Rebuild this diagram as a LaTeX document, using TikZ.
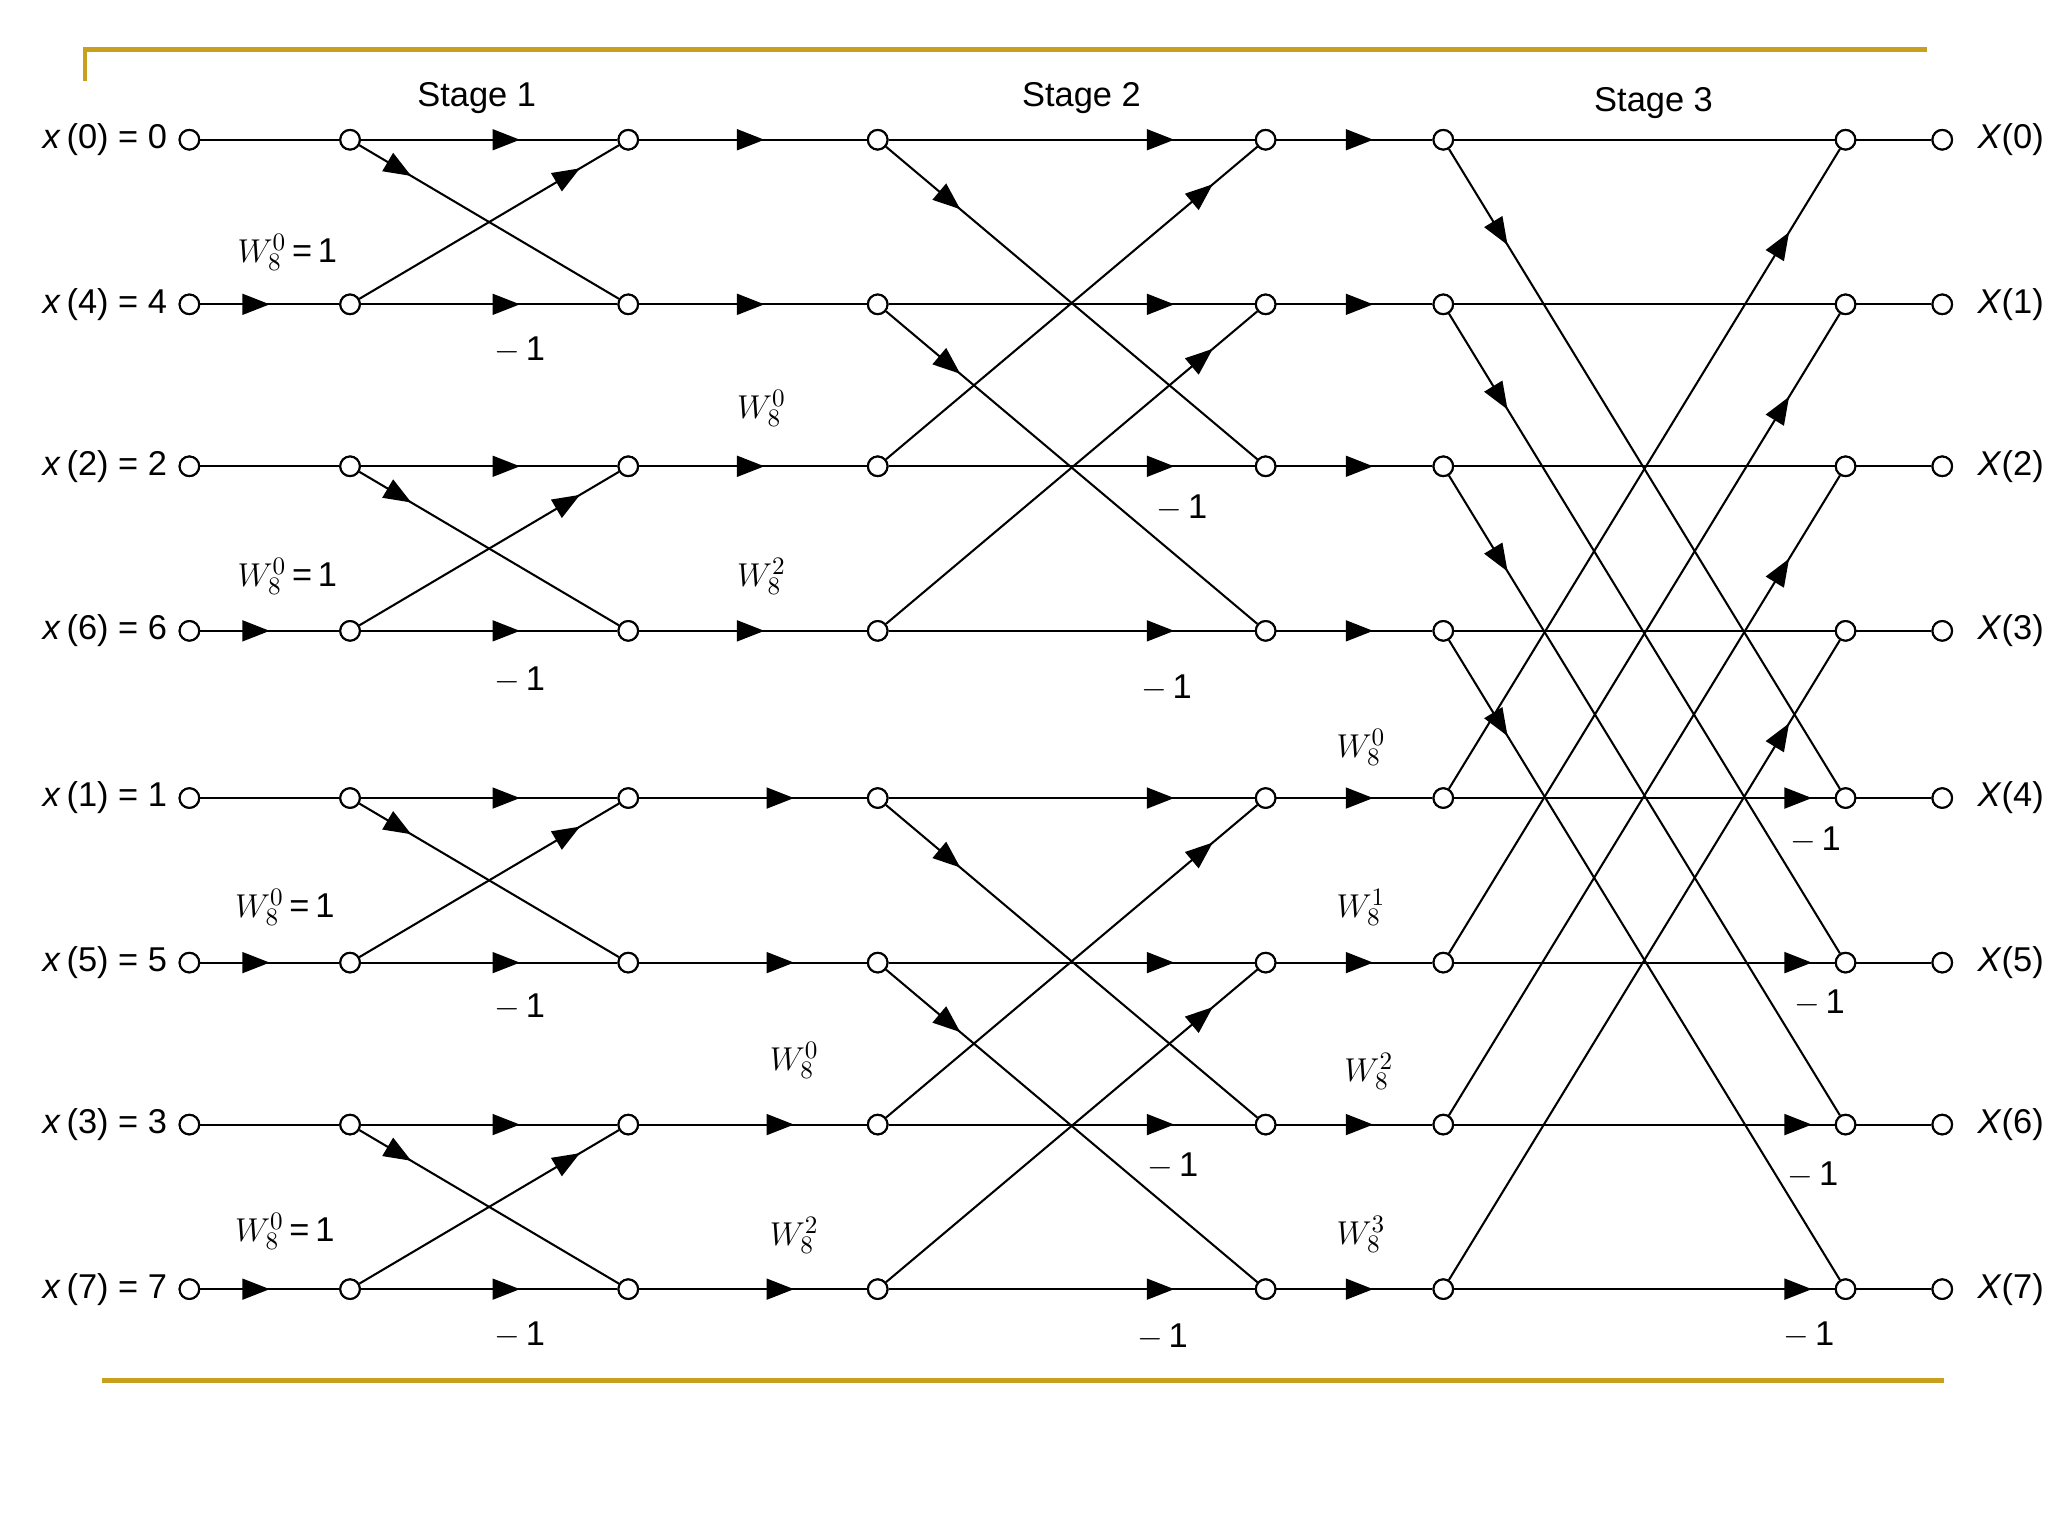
\documentclass[tikz,border=0pt]{standalone}
\usepackage{fontspec}
\setmainfont{Liberation Sans}
\usetikzlibrary{arrows.meta,decorations.markings}
\begin{document}
\begin{tikzpicture}[x=0.02cm,y=-0.02cm,
  pt/.style={circle,draw,line width=0.9pt,fill=white,inner sep=0pt,minimum size=0.3cm},
  ln/.style={line width=0.9pt},
  ma/.style={postaction={decorate,decoration={markings,mark=at position #1 with {\arrow{Triangle[length=0.42cm,width=0.32cm]}}}}},
  lab/.style={font=\fontsize{15}{18}\selectfont,inner sep=1pt},
  gold/.style={draw={rgb,255:red,201;green,160;blue,30},line width=2pt}]
\useasboundingbox (0,0) rectangle (1568,1176);
\draw[gold] (65,62) -- (65,38) -- (1475,38);
\draw[gold] (78,1057) -- (1488,1057);
\def\ys{{107,233,357,483,611,737,861,987}}
\foreach \r in {0,...,7}{
  \pgfmathsetmacro\yy{\ys[\r]}
  \node[pt] (i\r) at (145,\yy) {};
  \node[pt] (a\r) at (268,\yy) {};
  \node[pt] (b\r) at (481,\yy) {};
  \node[pt] (c\r) at (672,\yy) {};
  \node[pt] (d\r) at (969,\yy) {};
  \node[pt] (e\r) at (1105,\yy) {};
  \node[pt] (f\r) at (1413,\yy) {};
  \node[pt] (o\r) at (1487,\yy) {};
}
\foreach \r in {0,2,4,6}{\draw[ln] (i\r)--(a\r);}
\foreach \r in {1,3,5,7}{\draw[ln,ma=0.5] (i\r)--(a\r);}
\foreach \r in {0,...,7}{\draw[ln,ma=0.62] (a\r)--(b\r); \draw[ln,ma=0.78] (c\r)--(d\r); \draw[ln,ma=0.62] (d\r)--(e\r); \draw[ln] (f\r)--(o\r);}
\foreach \r in {0,...,3}{\draw[ln,ma=0.55] (b\r)--(c\r); \draw[ln] (e\r)--(f\r);}
\foreach \r in {4,...,7}{\draw[ln,ma=0.68] (b\r)--(c\r); \draw[ln,ma=0.94] (e\r)--(f\r);}
\foreach \p/\q in {0/1,2/3,4/5,6/7}{
  \draw[ln,ma=0.2] (a\p)--(b\q);
  \draw[ln,ma=0.85] (a\q)--(b\p);}
\foreach \p/\q in {0/2,1/3,4/6,5/7}{
  \draw[ln,ma=0.2] (c\p)--(d\q);
  \draw[ln,ma=0.88] (c\q)--(d\p);}
\foreach \p/\q in {0/4,1/5,2/6,3/7}{
  \draw[ln,ma=0.15] (e\p)--(f\q);
  \draw[ln,ma=0.87] (e\q)--(f\p);}
\foreach \r in {0,...,7}{
  \node[pt] at (i\r) {}; \node[pt] at (a\r) {}; \node[pt] at (b\r) {}; \node[pt] at (c\r) {};
  \node[pt] at (d\r) {}; \node[pt] at (e\r) {}; \node[pt] at (f\r) {}; \node[pt] at (o\r) {};}
\foreach \r/\n/\v in {0/0/0,1/4/4,2/2/2,3/6/6,4/1/1,5/5/5,6/3/3,7/7/7}{
  \node[lab,anchor=east] (in\r) at (130,\ys[\r]) {\textit{x}\,(\n) = \v};
  \node[lab,anchor=west] (out\r) at (1512,\ys[\r]) {\textit{X}(\r)};}
\node[lab] (s1) at (365,75) {Stage 1};
\node[lab] (s2) at (828,75) {Stage 2};
\node[lab] (s3) at (1266,79) {Stage 3};
\foreach \x/\y in {220/193,220/441,218/695,218/943}{\node[lab] at (\x,\y) {$W_8^0$\,=\,1};}
\foreach \x/\y in {398/268,398/521,398/771,398/1022,905/389,893/527,898/893,890/1024,1390/643,1393/768,1388/900,1385/1022}{\node[lab] at (\x,\y) {$-$\,1};}
\foreach \x/\y/\k in {583/313/0,583/441/2,608/812/0,608/946/2,1042/572/0,1042/695/1,1048/820/2,1042/945/3}{\node[lab] at (\x,\y) {$W_8^{\k}$};}
\end{tikzpicture}
\end{document}
